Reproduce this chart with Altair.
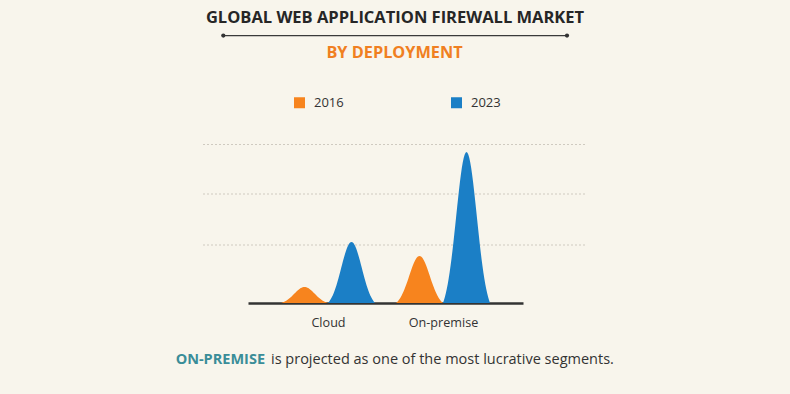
import altair as alt
import pandas as pd
import jinja2

# ---- data ----
categories = ["Cloud", "On-premise"]
years = ["2016", "2023"]
values_2016 = [0.32, 0.94]
values_2023 = [1.22, 3.02]
grid_values = [1.16, 2.18, 3.17]

title_text = "GLOBAL WEB APPLICATION FIREWALL MARKET"
subtitle_text = "BY DEPLOYMENT"
note_bold = "ON-PREMISE"
note_rest = "is projected as one of the most lucrative segments."

ORANGE = "#f7841e"
BLUE = "#1b7fc6"
BG = "#f8f5ec"
DARK = "#333333"
TEAL = "#3a8d98"

rows = []
for i, c in enumerate(categories):
    rows.append({"category": c, "year": years[0], "value": values_2016[i]})
    rows.append({"category": c, "year": years[1], "value": values_2023[i]})
df = pd.DataFrame(rows)
grid_df = pd.DataFrame({"g": grid_values})

xscale = alt.Scale(domain=[-137.5, 137.5], range=[248, 523])
yscale = alt.Scale(domain=[0, 6.06])
color_scale = alt.Scale(domain=years, range=[ORANGE, BLUE])

grid = alt.Chart(grid_df).mark_rule(
    color="#cfcac0", strokeDash=[2, 2], strokeWidth=1
).encode(
    y=alt.Y("g:Q", scale=yscale, axis=None),
    x=alt.datum(-182.5, scale=xscale),
    x2=alt.datum(201.5),
)

areas = alt.Chart(df).transform_calculate(
    t="sequence(-1, 1.001, 0.04)"
).transform_flatten(["t"]).transform_calculate(
    xpos="(indexof(['Cloud','On-premise'], datum.category) - 0.5) * 115"
         " + (datum.year == '2016' ? -23.5 : 23.5) + datum.t * 23.5",
    ypos="datum.value * (exp(-2.6 * datum.t * datum.t) - exp(-2.6)) / (1 - exp(-2.6))",
).mark_area(opacity=1).encode(
    x=alt.X("xpos:Q", scale=xscale, title=None,
            axis=alt.Axis(values=[-57.5, 57.5],
                          labelExpr="datum.value < 0 ? 'Cloud' : 'On-premise'",
                          domainColor=DARK, domainWidth=2.5, ticks=False,
                          grid=False, labelFont="Open Sans", labelFontSize=12.6,
                          labelColor=DARK, labelPadding=13)),
    y=alt.Y("ypos:Q", scale=yscale, axis=None, stack=None),
    color=alt.Color("year:N", scale=color_scale, title=None,
                    legend=alt.Legend(orient="none", legendX=293, legendY=96,
                                      direction="horizontal", symbolType="square",
                                      symbolSize=121, symbolStrokeWidth=0,
                                      labelFont="Open Sans", labelFontSize=13,
                                      labelColor=DARK, columnPadding=106,
                                      labelOffset=8, padding=0)),
    detail="category:N",
)

def text_layer(txt, x, y, size, color, weight="normal", align="center", font="Open Sans"):
    return alt.Chart(pd.DataFrame({"s": [txt]})).mark_text(
        fontSize=size, color=color, fontWeight=weight, align=align,
        baseline="alphabetic", font=font
    ).encode(text="s:N", x=alt.value(x), y=alt.value(y))

title = text_layer(title_text, 395, 23.3, 16.5, "#262626", "bold")
subtitle = text_layer(subtitle_text, 394.5, 58.3, 16.3, "#f07f21", "bold")
note1 = text_layer(note_bold, 265, 364, 14.5, TEAL, "bold", align="right")
note2 = text_layer(note_rest, 271, 364, 14.5, DARK, "normal", align="left")

dummy = pd.DataFrame({"k": [0]})
line = alt.Chart(dummy).mark_rule(color="#3a3a3a", strokeWidth=1.3).encode(
    x=alt.value(223.3), x2=alt.value(567), y=alt.value(35.6))
dot1 = alt.Chart(dummy).mark_circle(color="#333333", size=18, opacity=1).encode(
    x=alt.value(223.3), y=alt.value(35.6))
dot2 = alt.Chart(dummy).mark_circle(color="#333333", size=18, opacity=1).encode(
    x=alt.value(567), y=alt.value(35.6))

chart = alt.layer(grid, areas, title, line, dot1, dot2, subtitle, note1, note2).properties(
    width=790, height=303,
    autosize=alt.AutoSizeParams(type="none"),
    padding={"left": 0, "top": 0, "right": 0, "bottom": 91},
    background=BG,
).configure_view(stroke=None)

PAGE = jinja2.Template("""<!DOCTYPE html>
<html>
<head>
  <meta charset="utf-8">
  <style>html, body { background-color: #f8f5ec; margin: 0; padding: 0; }</style>
  <script type="text/javascript" src="{{ base_url }}/vega@{{ vega_version }}"></script>
  <script type="text/javascript" src="{{ base_url }}/vega-lite@{{ vegalite_version }}"></script>
  <script type="text/javascript" src="{{ base_url }}/vega-embed@{{ vegaembed_version }}"></script>
</head>
<body>
  <div id="{{ output_div }}"></div>
  <script type="text/javascript">
    var opts = Object.assign({mode: "{{ mode }}"}, {{ embed_options }});
    vegaEmbed("#{{ output_div }}", {{ spec }}, opts).catch(console.error);
  </script>
</body>
</html>""")

chart.save("out.html", embed_options={"renderer": "svg", "actions": False}, template=PAGE)
